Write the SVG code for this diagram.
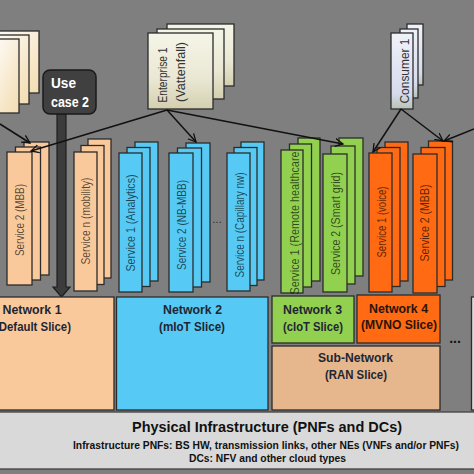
<svg xmlns="http://www.w3.org/2000/svg" width="474" height="474" viewBox="0 0 474 474">
<style>
.s{stroke:#2b2b2b;stroke-width:1.3}
.pe{fill:#FAC99B}.bl{fill:#56CAF5}.gr{fill:#92D050}.or{fill:#FF6A12}
.st{font-family:"Liberation Sans",Arial,sans-serif;font-size:12px;fill:#000;fill-opacity:0.66;text-anchor:middle}
.nl{font-family:"Liberation Sans",Arial,sans-serif;font-size:13.5px;font-weight:bold;fill:#1f2633;text-anchor:middle}
.tl{font-family:"Liberation Sans",Arial,sans-serif;font-size:13px;fill:#333;text-anchor:middle}
.uc{font-family:"Liberation Sans",Arial,sans-serif;font-size:15px;font-weight:bold;fill:#fff}
.ph{font-family:"Liberation Sans",Arial,sans-serif;font-weight:bold;fill:#111;text-anchor:middle}
.cn{stroke:#111;stroke-width:1.5;fill:none;marker-end:url(#ah)}
</style>
<defs>
<marker id="ah" markerUnits="userSpaceOnUse" markerWidth="10" markerHeight="10" refX="8" refY="4" orient="auto" viewBox="0 0 10 8">
<path d="M0,0 L8,4 L0,8" fill="none" stroke="#111" stroke-width="1.3"/>
</marker>
<linearGradient id="gw" x1="0" y1="0" x2="1" y2="1">
<stop offset="0" stop-color="#FFFFFF"/><stop offset="1" stop-color="#F3DCB0"/>
</linearGradient>
<linearGradient id="ge" x1="0" y1="0" x2="0" y2="1">
<stop offset="0" stop-color="#F5F5E8"/><stop offset="0.6" stop-color="#EAE8D4"/><stop offset="1" stop-color="#D3CFAF"/>
</linearGradient>
<linearGradient id="gc" x1="0" y1="0" x2="0" y2="1">
<stop offset="0" stop-color="#F0F2FA"/><stop offset="0.8" stop-color="#D6DBEC"/><stop offset="1" stop-color="#B8C2B4"/>
</linearGradient>
</defs>
<rect x="0" y="0" width="474" height="474" fill="#7f7f7f"/>

<g id="tenant-left">
<rect class="s" x="-10" y="31" width="49" height="62" fill="url(#gw)"/>
<rect class="s" x="-10" y="35" width="39" height="69" fill="url(#gw)"/>
<rect class="s" x="-10" y="39" width="29" height="74" fill="url(#gw)"/>
</g>

<g id="enterprise1">
<rect class="s" x="167" y="24" width="67" height="62" fill="url(#ge)"/>
<rect class="s" x="157" y="29" width="67" height="70" fill="url(#ge)"/>
<rect class="s" x="148" y="33" width="65" height="76" fill="url(#ge)"/>
<text class="tl" transform="translate(162,75) rotate(-90)" dy="0.35em" textLength="55" lengthAdjust="spacingAndGlyphs">Enterprise 1</text>
<text class="tl" transform="translate(180,72) rotate(-90)" dy="0.35em" textLength="60" lengthAdjust="spacingAndGlyphs">(Vattenfall)</text>
</g>

<g id="consumer1">
<rect class="s" x="407" y="24" width="16" height="61" fill="url(#gc)"/>
<rect class="s" x="400" y="29" width="18" height="69" fill="url(#gc)"/>
<rect class="s" x="391" y="33" width="22" height="76" fill="url(#gc)"/>
<text class="tl" transform="translate(404,71) rotate(-90)" dy="0.35em" textLength="65" lengthAdjust="spacingAndGlyphs">Consumer 1</text>
</g>

<g id="usecase2">
<path d="M57,114 H66 V287 H70 L61.5,297 L53,287 H57 Z" fill="#3c3c3c" stroke="#1e1e1e" stroke-width="1.2"/>
<rect x="43" y="70" width="53" height="44" rx="7" fill="#404040" stroke="#1a1a1a" stroke-width="1.5"/>
<text class="uc" x="51" y="88" textLength="25" lengthAdjust="spacingAndGlyphs">Use</text>
<text class="uc" x="51" y="107" textLength="38" lengthAdjust="spacingAndGlyphs">case 2</text>
</g>

<g id="svc-n1-mbb">
<rect class="s pe" x="24" y="142" width="25" height="133"/>
<rect class="s pe" x="15.5" y="147" width="25" height="133"/>
<rect class="s pe" x="7" y="152" width="25" height="133"/>
<text class="st" transform="translate(19.5,220) rotate(-90)" dy="0.35em" textLength="72" lengthAdjust="spacingAndGlyphs">Service 2 (MBB)</text>
</g>
<g id="svc-n1-mobility">
<rect class="s pe" x="88" y="139" width="23" height="139"/>
<rect class="s pe" x="81" y="145.5" width="23" height="139"/>
<rect class="s pe" x="74" y="152" width="23" height="139"/>
<text class="st" transform="translate(86,221) rotate(-90)" dy="0.35em" textLength="87" lengthAdjust="spacingAndGlyphs">Service n (mobility)</text>
</g>
<g id="svc-n2-analytics">
<rect class="s bl" x="135" y="142" width="23" height="139"/>
<rect class="s bl" x="127" y="147.5" width="23" height="139"/>
<rect class="s bl" x="119" y="153" width="23" height="139"/>
<text class="st" transform="translate(131,223) rotate(-90)" dy="0.35em" textLength="97" lengthAdjust="spacingAndGlyphs">Service 1 (Analytics)</text>
</g>
<g id="svc-n2-nbmbb">
<rect class="s bl" x="186" y="143" width="24" height="139"/>
<rect class="s bl" x="177.5" y="148" width="24" height="139"/>
<rect class="s bl" x="169" y="153" width="24" height="139"/>
<text class="st" transform="translate(182,225) rotate(-90)" dy="0.35em" textLength="90" lengthAdjust="spacingAndGlyphs">Service 2 (NB-MBB)</text>
</g>
<text x="217" y="223" style="font-family:'Liberation Sans',Arial,sans-serif;font-size:10px;fill:#222;text-anchor:middle">…</text>
<g id="svc-n2-capillary">
<rect class="s bl" x="241" y="142" width="23" height="138"/>
<rect class="s bl" x="234" y="147.5" width="23" height="138"/>
<rect class="s bl" x="227" y="153" width="23" height="138"/>
<text class="st" transform="translate(240,225) rotate(-90)" dy="0.35em" textLength="105" lengthAdjust="spacingAndGlyphs">Service n (Capillary nw)</text>
</g>
<g id="svc-n3-health">
<rect class="s gr" x="298" y="138" width="22" height="143"/>
<rect class="s gr" x="289.5" y="144" width="22" height="143"/>
<rect class="s gr" x="281" y="150" width="22" height="143"/>
<text class="st" transform="translate(295,223) rotate(-90)" dy="0.35em" textLength="143" lengthAdjust="spacingAndGlyphs">Service 1 (Remote healthcare</text>
</g>
<g id="svc-n3-grid">
<rect class="s gr" x="339" y="138" width="24" height="138"/>
<rect class="s gr" x="331" y="146" width="24" height="138"/>
<rect class="s gr" x="323" y="154" width="24" height="138"/>
<text class="st" transform="translate(336,223.5) rotate(-90)" dy="0.35em" textLength="103" lengthAdjust="spacingAndGlyphs">Service 2 (Smart grid)</text>
</g>
<g id="svc-n4-voice">
<rect class="s or" x="385" y="142" width="23" height="139"/>
<rect class="s or" x="377" y="147.5" width="23" height="139"/>
<rect class="s or" x="369" y="153" width="23" height="139"/>
<text class="st" transform="translate(382,222) rotate(-90)" dy="0.35em" textLength="71" lengthAdjust="spacingAndGlyphs">Service 1 (voice)</text>
</g>
<g id="svc-n4-mbb">
<rect class="s or" x="428.5" y="141" width="24" height="139"/>
<rect class="s or" x="421" y="147.5" width="24" height="139"/>
<rect class="s or" x="413" y="154" width="24" height="139"/>
<text class="st" transform="translate(425,223) rotate(-90)" dy="0.35em" textLength="77" lengthAdjust="spacingAndGlyphs">Service 2 (MBB)</text>
</g>

<g id="connectors">
<line class="cn" x1="0" y1="124" x2="30" y2="143"/>
<line class="cn" x1="167" y1="110" x2="31" y2="151"/>
<line class="cn" x1="167" y1="110" x2="196" y2="142"/>
<line class="cn" x1="167" y1="110" x2="343" y2="144"/>
<line class="cn" x1="401" y1="109" x2="373" y2="152"/>
<line class="cn" x1="401" y1="109" x2="443" y2="141"/>
<line class="cn" x1="474" y1="129" x2="444" y2="141"/>
</g>

<g id="network1">
<rect class="s" x="-3" y="297" width="117" height="113" fill="#FAC99B"/>
<text class="nl" x="32" y="314" textLength="59" lengthAdjust="spacingAndGlyphs">Network 1</text>
<text class="nl" x="33" y="331" textLength="76" lengthAdjust="spacingAndGlyphs">(Default Slice)</text>
</g>
<g id="network2">
<rect class="s" x="116.5" y="297" width="151.5" height="113" fill="#56CAF5"/>
<text class="nl" x="192.5" y="314" textLength="59" lengthAdjust="spacingAndGlyphs">Network 2</text>
<text class="nl" x="192" y="331" textLength="66" lengthAdjust="spacingAndGlyphs">(mIoT Slice)</text>
</g>
<g id="network3">
<rect class="s" x="272" y="296" width="82" height="47" fill="#92D050"/>
<text class="nl" x="312.5" y="314" textLength="59" lengthAdjust="spacingAndGlyphs">Network 3</text>
<text class="nl" x="313" y="331" textLength="60" lengthAdjust="spacingAndGlyphs">(cIoT Slice)</text>
</g>
<g id="network4">
<rect class="s" x="357" y="295" width="83" height="48" fill="#FF6A12"/>
<text class="nl" x="398.5" y="313" style="fill:#2a1408" textLength="59" lengthAdjust="spacingAndGlyphs">Network 4</text>
<text class="nl" x="399" y="329" style="fill:#2a1408" textLength="76" lengthAdjust="spacingAndGlyphs">(MVNO Slice)</text>
</g>
<g id="subnetwork">
<rect class="s" x="272" y="346" width="168" height="64" fill="#E6B68C"/>
<text class="nl" x="355.5" y="362" textLength="75" lengthAdjust="spacingAndGlyphs">Sub-Network</text>
<text class="nl" x="356" y="379" textLength="62" lengthAdjust="spacingAndGlyphs">(RAN Slice)</text>
</g>
<text x="455" y="343" style="font-family:'Liberation Sans',Arial,sans-serif;font-size:14px;font-weight:bold;fill:#111;text-anchor:middle">...</text>
<g id="network-more">
<rect class="s" x="471.5" y="297" width="10" height="113" fill="#D9D9D9"/>
</g>

<g id="physical">
<rect x="-3" y="412" width="480" height="57" fill="#D9D9D9" stroke="#404040" stroke-width="1.3"/>
<text class="ph" x="267" y="432" style="font-size:15.5px" textLength="270" lengthAdjust="spacingAndGlyphs">Physical Infrastructure (PNFs and DCs)</text>
<text class="ph" x="266" y="449" style="font-size:10px" textLength="386" lengthAdjust="spacingAndGlyphs">Infrastructure PNFs: BS HW, transmission links, other NEs (VNFs and/or PNFs)</text>
<text class="ph" x="267.5" y="462" style="font-size:11px" textLength="157" lengthAdjust="spacingAndGlyphs">DCs: NFV and other cloud types</text>
</g>
</svg>
